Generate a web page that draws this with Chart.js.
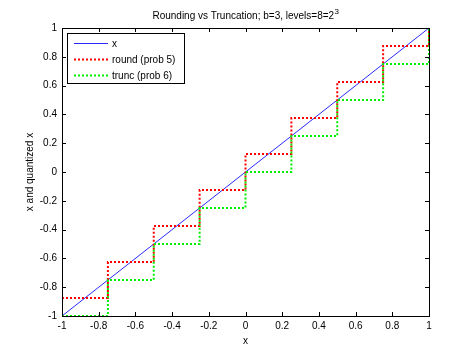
<!DOCTYPE html>
<html><head><meta charset="utf-8">
<script src="https://cdn.jsdelivr.net/npm/chart.js@4/dist/chart.umd.min.js"></script>
<style>html,body{margin:0;padding:0;background:#fff}#wrap{width:474px;height:355px}</style>
</head><body><div id="wrap"><canvas id="c" width="474" height="355"></canvas></div>
<script>
const titleMain = "Rounding vs Truncation; b=3, levels=8=2";
const titleSup = "3";
const xLabel = "x";
const yLabel = "x and quantized x";
const seriesNames = ["x", "round (prob 5)", "trunc (prob 6)"];
const lineX = [-1, 1];
const lineY = [-1, 1];
const stepX = [-1, -0.75, -0.5, -0.25, 0, 0.25, 0.5, 0.75, 1];
const roundVals = [-0.875, -0.625, -0.375, -0.125, 0.125, 0.375, 0.625, 0.875, 1];
const truncVals = [-1, -0.75, -0.5, -0.25, 0, 0.25, 0.5, 0.75, 1];
const tickVals = [-1, -0.8, -0.6, -0.4, -0.2, 0, 0.2, 0.4, 0.6, 0.8, 1];

const FONT = "Liberation Sans, Arial, sans-serif";
const colors = ["#2a2aff", "#ff0000", "#00ee00"];
const pts = (xs, ys) => xs.map((v, i) => ({x: v, y: ys[i]}));
const fmt = v => { const r = Math.round(v * 10) / 10; return (r === 0 ? 0 : r).toString(); };

const decor = {
  id: 'decor',
  afterDraw(chart) {
    const ctx = chart.ctx, a = chart.chartArea;
    const xs = chart.scales.x, ys = chart.scales.y;
    ctx.save();
    ctx.strokeStyle = '#000'; ctx.lineWidth = 1;
    ctx.strokeRect(Math.round(a.left) + 0.5, Math.round(a.top) + 0.5, Math.round(a.right - a.left), Math.round(a.bottom - a.top));
    ctx.beginPath();
    tickVals.forEach(v => {
      const px = Math.round(xs.getPixelForValue(v)) + 0.5;
      ctx.moveTo(px, a.bottom); ctx.lineTo(px, a.bottom - 4);
      ctx.moveTo(px, a.top); ctx.lineTo(px, a.top + 4);
      const py = Math.round(ys.getPixelForValue(v)) + 0.5;
      ctx.moveTo(a.left, py); ctx.lineTo(a.left + 4, py);
      ctx.moveTo(a.right, py); ctx.lineTo(a.right - 4, py);
    });
    ctx.stroke();
    // title
    ctx.fillStyle = '#000';
    ctx.font = "10px " + FONT;
    ctx.textBaseline = 'alphabetic';
    const w1 = ctx.measureText(titleMain).width;
    ctx.font = "8px " + FONT;
    const w2 = ctx.measureText(titleSup).width;
    const cx = (a.left + a.right) / 2;
    const x0 = cx - (w1 + w2) / 2;
    ctx.font = "10px " + FONT;
    ctx.textAlign = 'left';
    ctx.fillText(titleMain, x0, 19);
    ctx.font = "8px " + FONT;
    ctx.fillText(titleSup, x0 + w1 + 0.5, 14);
    // axis titles
    ctx.font = "10px " + FONT;
    ctx.textAlign = 'center';
    ctx.fillText(xLabel, cx, 344);
    ctx.save();
    ctx.translate(33, (a.top + a.bottom) / 2);
    ctx.rotate(-Math.PI / 2);
    ctx.fillText(yLabel, 0, 0);
    ctx.restore();
    // legend
    const lx = 67.5, ly = 33.5, lw = 117, lh = 50;
    ctx.fillStyle = '#fff';
    ctx.fillRect(lx, ly, lw, lh);
    ctx.strokeStyle = '#000'; ctx.lineWidth = 1;
    ctx.strokeRect(lx, ly, lw, lh);
    const rows = [43, 59, 75];
    seriesNames.forEach((n, i) => {
      ctx.beginPath();
      ctx.strokeStyle = colors[i];
      ctx.lineWidth = i === 0 ? 1 : 2;
      ctx.setLineDash(i === 0 ? [] : [2, 2]);
      ctx.moveTo(74, rows[i] + 0.5); ctx.lineTo(108, rows[i] + 0.5);
      ctx.stroke();
      ctx.setLineDash([]);
      ctx.fillStyle = '#000';
      ctx.font = "10px " + FONT;
      ctx.textAlign = 'left';
      ctx.textBaseline = 'middle';
      ctx.fillText(n, 112, rows[i] + 1);
    });
    ctx.restore();
  }
};

new Chart(document.getElementById('c'), {
  type: 'scatter',
  data: {
    datasets: [
      {label: seriesNames[0], data: pts(lineX, lineY), showLine: true, borderColor: colors[0], borderWidth: 1, pointRadius: 0, order: 3, clip: 4},
      {label: seriesNames[1], data: pts(stepX, roundVals), showLine: true, stepped: 'before', borderColor: colors[1], borderWidth: 2, borderDash: [2, 2], pointRadius: 0, order: 2, clip: 4},
      {label: seriesNames[2], data: pts(stepX, truncVals), showLine: true, stepped: 'before', borderColor: colors[2], borderWidth: 2, borderDash: [2, 2], pointRadius: 0, order: 1, clip: 4}
    ]
  },
  options: {
    responsive: false, animation: false, devicePixelRatio: 1,
    layout: {padding: {top: 28, right: 45, left: 0, bottom: 0}},
    plugins: {legend: {display: false}, tooltip: {enabled: false}, title: {display: false}},
    scales: {
      x: {
        type: 'linear', min: -1, max: 1,
        afterBuildTicks: s => { s.ticks = tickVals.map(v => ({value: v})); },
        afterFit: s => { s.height = 39; },
        grid: {display: false, drawTicks: false},
        border: {display: false},
        ticks: {callback: v => fmt(v), color: '#000', font: {size: 10, family: FONT}, padding: 4, maxRotation: 0, autoSkip: false}
      },
      y: {
        type: 'linear', min: -1, max: 1,
        afterBuildTicks: s => { s.ticks = tickVals.map(v => ({value: v})); },
        afterFit: s => { s.width = 62; },
        grid: {display: false, drawTicks: false},
        border: {display: false},
        ticks: {callback: v => fmt(v), color: '#000', font: {size: 10, family: FONT}, padding: 5, autoSkip: false}
      }
    }
  },
  plugins: [decor]
});
</script>
</body></html>
